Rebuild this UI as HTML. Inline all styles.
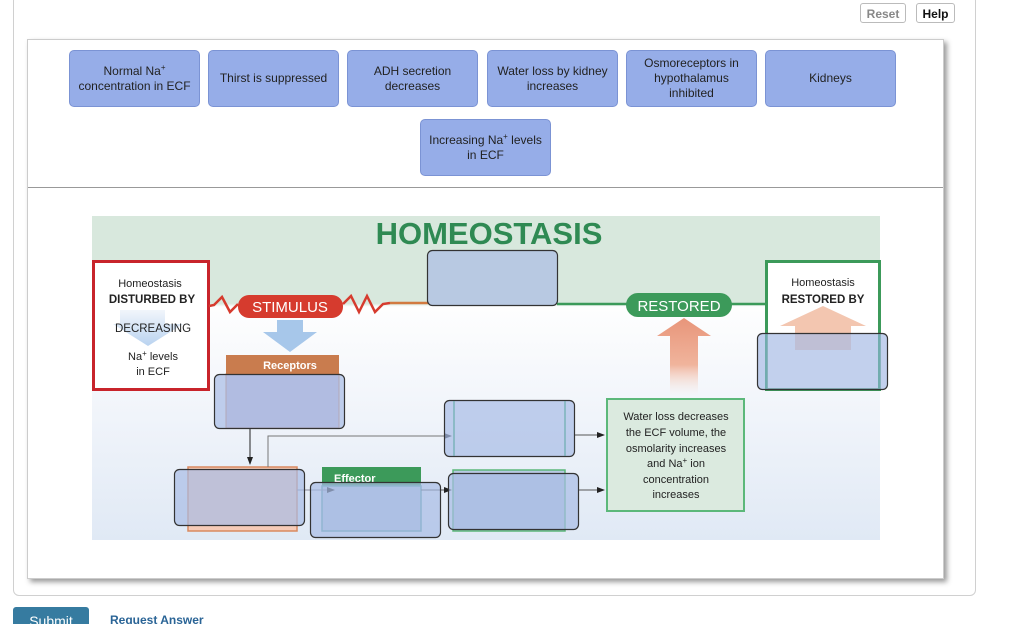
<!DOCTYPE html>
<html><head><meta charset="utf-8"><style>
html,body{margin:0;width:1024px;height:624px;overflow:hidden}
body{background:#fff;font-family:"Liberation Sans",Arial,sans-serif;position:relative}
.abs{position:absolute}
.outer{left:13px;top:-5px;width:963px;height:601px;border:1px solid #d0d0d0;border-radius:6px;box-sizing:border-box}
.inner{left:27px;top:39px;width:917px;height:540px;border:1px solid #ccc;box-sizing:border-box;box-shadow:3px 3px 5px #999;background:#fff}
.btn{top:3px;height:20px;border:1px solid #bbb;border-radius:3px;font-size:12px;font-weight:bold;line-height:20px;text-align:center;box-sizing:border-box;background:#fff}
.tile{width:131px;height:57px;background:#96ade8;border:1px solid #7b93d4;border-radius:5px;box-sizing:border-box;display:flex;align-items:center;justify-content:center;text-align:center;font-size:12px;color:#222;line-height:15px}
sup{font-size:8px;line-height:0;vertical-align:super}
</style></head><body>
<div class="abs outer"></div>
<div class="abs btn" style="left:860px;width:46px;color:#888">Reset</div>
<div class="abs btn" style="left:916px;width:39px;color:#111">Help</div>
<div class="abs inner"></div>
<div class="abs tile" style="left:69px;top:50px"><span>Normal Na<sup>+</sup><br>concentration in ECF</span></div>
<div class="abs tile" style="left:208px;top:50px"><span>Thirst is suppressed</span></div>
<div class="abs tile" style="left:347px;top:50px"><span>ADH secretion<br>decreases</span></div>
<div class="abs tile" style="left:487px;top:50px"><span>Water loss by kidney<br>increases</span></div>
<div class="abs tile" style="left:626px;top:50px"><span>Osmoreceptors in<br>hypothalamus<br>inhibited</span></div>
<div class="abs tile" style="left:765px;top:50px"><span>Kidneys</span></div>
<div class="abs tile" style="left:420px;top:119px"><span>Increasing Na<sup>+</sup> levels<br>in ECF</span></div>
<div class="abs" style="left:28px;top:187px;width:915px;height:1px;background:#999"></div>

<svg class="abs" style="left:0;top:0" width="1024" height="624" font-family="Liberation Sans, sans-serif">
<defs>
<linearGradient id="bg" x1="0" y1="0" x2="0" y2="1">
<stop offset="0" stop-color="#d8e8dd"/><stop offset="0.27" stop-color="#d8e8dd"/><stop offset="0.28" stop-color="#fefefe"/><stop offset="0.55" stop-color="#f3f6fb"/><stop offset="1" stop-color="#e0e9f5"/></linearGradient>
<linearGradient id="sal" x1="0" y1="0" x2="0" y2="1"><stop offset="0" stop-color="#e8957a"/><stop offset="0.6" stop-color="#f0b49c"/><stop offset="1" stop-color="#f8e8e2" stop-opacity="0"/></linearGradient>
<linearGradient id="blu" x1="0" y1="0" x2="0" y2="1"><stop offset="0" stop-color="#eef3fa"/><stop offset="1" stop-color="#a8c8ec"/></linearGradient>
<marker id="ar" markerWidth="8" markerHeight="8" refX="7" refY="4" orient="auto"><path d="M0,1L8,4L0,7z" fill="#222"/></marker>
</defs>
<rect x="92" y="216" width="788" height="324" fill="url(#bg)"/>
<text x="489" y="244" text-anchor="middle" font-size="31" font-weight="bold" fill="#2f8a53">HOMEOSTASIS</text>
<rect x="93.5" y="261.5" width="115" height="128" fill="#fff" stroke="#c8242b" stroke-width="3"/>
<path d="M120,310 h45 v14 h18 l-35,22 l-35,-22 h7z" fill="url(#blu)" opacity="0.8"/>
<text x="150" y="287" text-anchor="middle" font-size="11" fill="#222">Homeostasis</text>
<text x="152" y="303" text-anchor="middle" font-size="11.5" font-weight="bold" fill="#222">DISTURBED BY</text>
<text x="153" y="332" text-anchor="middle" font-size="11.5" fill="#222">DECREASING</text>
<text x="153" y="360" text-anchor="middle" font-size="11" fill="#222">Na<tspan font-size="8" dy="-4">+</tspan><tspan dy="4"> levels</tspan></text>
<text x="153" y="375" text-anchor="middle" font-size="11" fill="#222">in ECF</text>
<polyline points="209,306 214,305 222,297 230,312 238,304" fill="none" stroke="#d63b2e" stroke-width="2.5"/>
<polyline points="343,304 351,296 359,312 367,296 375,312 383,304 390,303" fill="none" stroke="#d63b2e" stroke-width="2.5"/>
<line x1="390" y1="303" x2="428" y2="303" stroke="#d27a40" stroke-width="2.5"/>
<rect x="238" y="295" width="105" height="23" rx="11" fill="#d63b2e"/>
<text x="290" y="312" text-anchor="middle" font-size="15" fill="#fff">STIMULUS</text>
<path d="M277,320 h26 v12 h14 l-27,20 l-27,-20 h14z" fill="#a7c7ea"/>
<line x1="557" y1="304" x2="766" y2="304" stroke="#3c9a5a" stroke-width="2.5"/>
<rect x="626" y="293" width="106" height="24" rx="12" fill="#3c9a5a"/>
<text x="679" y="311" text-anchor="middle" font-size="15" fill="#fff">RESTORED</text>
<path d="M670,396 v-60 h-13 l27,-18 l27,18 h-13 v60z" fill="url(#sal)"/>
<rect x="766.5" y="261.5" width="113" height="128" fill="#fff" stroke="#3c9a5a" stroke-width="3"/>
<text x="823" y="286" text-anchor="middle" font-size="11" fill="#222">Homeostasis</text>
<text x="823" y="303" text-anchor="middle" font-size="11.5" font-weight="bold" fill="#222">RESTORED BY</text>
<path d="M795,350 v-24 h-15 l43,-20 l43,20 h-15 v24z" fill="#f3c6b0"/>
<rect x="607" y="399" width="137" height="112" fill="#dbeadf" stroke="#5cb87a" stroke-width="2"/>
<g font-size="11" fill="#222" text-anchor="middle"><text x="676" y="420">Water loss decreases</text><text x="676" y="436">the ECF volume, the</text><text x="676" y="452">osmolarity increases</text><text x="676" y="467">and Na<tspan font-size="8" dy="-4">+</tspan><tspan dy="4"> ion</tspan></text><text x="676" y="483">concentration</text><text x="676" y="498">increases</text></g>
<rect x="226" y="355" width="113" height="19" fill="#c97c4e"/>
<text x="290" y="369" text-anchor="middle" font-size="11" font-weight="bold" fill="#fff">Receptors</text>
<rect x="226" y="374" width="113" height="54" fill="#c5bdd8" stroke="#c97c4e"/>
<rect x="188" y="467" width="109" height="64" fill="#f6cbb7" stroke="#d98a60" stroke-width="1.5"/>
<rect x="322" y="467" width="99" height="19" fill="#3c9a5a"/>
<text x="334" y="482" font-size="11" font-weight="bold" fill="#fff">Effector</text>
<rect x="322" y="486" width="99" height="45" fill="#b8c9e2" stroke="#5aa6a0" stroke-width="1.5"/>
<rect x="453" y="470" width="112" height="61" fill="#b8c9e2" stroke="#5cb87a" stroke-width="1.5"/>
<line x1="250" y1="428" x2="250" y2="464" stroke="#222" marker-end="url(#ar)"/>
<polyline points="268,467 268,436 451,436" fill="none" stroke="#777" marker-end="url(#ar)"/>
<line x1="574" y1="435" x2="604" y2="435" stroke="#555" marker-end="url(#ar)"/>
<line x1="578" y1="490" x2="604" y2="490" stroke="#555" marker-end="url(#ar)"/>
<line x1="297" y1="490" x2="334" y2="490" stroke="#889" marker-end="url(#ar)"/>
<line x1="421" y1="490" x2="451" y2="490" stroke="#555" marker-end="url(#ar)"/>
<g fill="#a8bce6" fill-opacity="0.7" stroke="#333" stroke-width="1.2">
<rect x="427.5" y="250.5" width="130" height="55" rx="5" fill="#b8c9e2" fill-opacity="1"/>
<rect x="757.5" y="333.5" width="130" height="56" rx="5"/>
<rect x="214.5" y="374.5" width="130" height="54" rx="5"/>
<rect x="444.5" y="400.5" width="130" height="56" rx="5"/>
<rect x="174.5" y="469.5" width="130" height="56" rx="5"/>
<rect x="310.5" y="482.5" width="130" height="55" rx="5"/>
<rect x="448.5" y="473.5" width="130" height="56" rx="5"/>
</g>
<line x1="454" y1="401" x2="454" y2="456" stroke="#5aa6a0"/><line x1="565" y1="401" x2="565" y2="456" stroke="#5aa6a0"/>
<line x1="766" y1="334" x2="766" y2="389" stroke="#5aa6a0"/><line x1="879" y1="334" x2="879" y2="389" stroke="#5aa6a0"/>
</svg>
<div class="abs" style="left:13px;top:607px;width:76px;height:30px;background:#367ba0;border-radius:3px;color:#fff;font-size:14px;text-align:center;line-height:28px">Submit</div>
<div class="abs" style="left:110px;top:613px;font-size:12px;color:#2a6496;font-weight:bold">Request Answer</div>
</body></html>
